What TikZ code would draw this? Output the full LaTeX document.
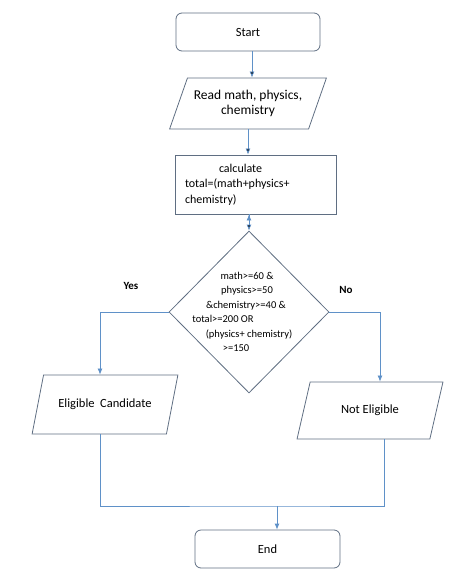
\documentclass[tikz,border=0pt]{standalone}
\usepackage{fontspec}
\setmainfont{Carlito}
\usepackage{tikz}
\usetikzlibrary{arrows.meta,positioning,shapes.geometric}
\definecolor{boxcol}{RGB}{95,110,130}
\definecolor{arrcol}{RGB}{95,145,200}
\tikzstyle{term}=[draw=boxcol, line width=0.8pt, rounded corners=6pt, minimum width=144pt, minimum height=38pt, align=center, font=\fontsize{12.5}{15}\selectfont]
\tikzstyle{io}=[draw=boxcol, line width=0.8pt, trapezium, trapezium stretches=true, trapezium left angle=63, trapezium right angle=117, align=center, font=\fontsize{12.5}{15}\selectfont]
\tikzstyle{proc}=[draw=boxcol, line width=0.8pt, minimum width=161pt, minimum height=59pt, text width=141pt, inner xsep=10pt, align=left, font=\fontsize{12}{15.5}\selectfont]
\tikzstyle{decide}=[draw=boxcol, line width=0.8pt, diamond, inner sep=-24pt, minimum width=160pt, minimum height=162pt, align=center, font=\fontsize{10.5}{14.5}\selectfont]
\tikzstyle{flow}=[draw=arrcol, line width=0.8pt]

\begin{document}
\begin{tikzpicture}[x=1pt,y=1pt,node distance=2.5cm,auto,>={Latex[length=6pt,width=5pt]}]
    \useasboundingbox (0,0) rectangle (474,-577);
    \node [term] (start) at (248,-32) {Start};
    \node [io, minimum width=157pt, minimum height=51pt, font=\fontsize{13.5}{15}\selectfont] (read) [below of=start,node distance=71.5pt] {Read math, physics,\\chemistry};
    \node [proc] (calc) [below of=read,node distance=81pt,xshift=7.5pt] {\hspace*{34pt}calculate\\total=(math+physics+\\chemistry)};
    \node [decide] (dec) [below of=calc,node distance=127.5pt,xshift=-6.5pt] {math>=60 \&\rule{4pt}{0pt}\\physics>=50\rule{4pt}{0pt}\\\&chemistry>=40 \&\rule{6pt}{0pt}\\total>=200 OR\rule{52pt}{0pt}\\(physics+ chemistry)\\>=150\rule{26pt}{0pt}};
    \node [io, minimum width=146pt, minimum height=59pt, trapezium left angle=62, trapezium right angle=118] (elig) at (105,-404.5) {Eligible\ \ Candidate};
    \node [io, minimum width=146pt, minimum height=57pt, trapezium left angle=68, trapezium right angle=112] (notel) at (370,-410.5) {Not Eligible};
    \node [term, minimum width=145pt] (end) at (267.5,-549) {End};
    \node [font=\fontsize{11}{15}\selectfont\bfseries] (yes) at (131,-286) {Yes};
    \node [font=\fontsize{11}{15}\selectfont\bfseries] (no) at (346,-290) {No};
    \coordinate (mrg) at (277,-506);
    \path[flow,->]
    ([xshift=4pt]start.south) edge node {} ([xshift=4pt]start.south |- read.north)
    (read.south) edge node {} (read.south |- calc.north)
    (dec.north |- calc.south) edge node {} (dec.north);
    \draw[flow,->] (dec.west) -| ([xshift=-5pt]elig.north);
    \draw[flow,->] (dec.east) -| ([xshift=10pt]notel.north);
    \draw[flow] ([xshift=-5pt]elig.south) |- (mrg) -| ([xshift=14pt]notel.south);
    \draw[flow,->] (mrg) -- (mrg |- end.north);
\end{tikzpicture}
\end{document}
